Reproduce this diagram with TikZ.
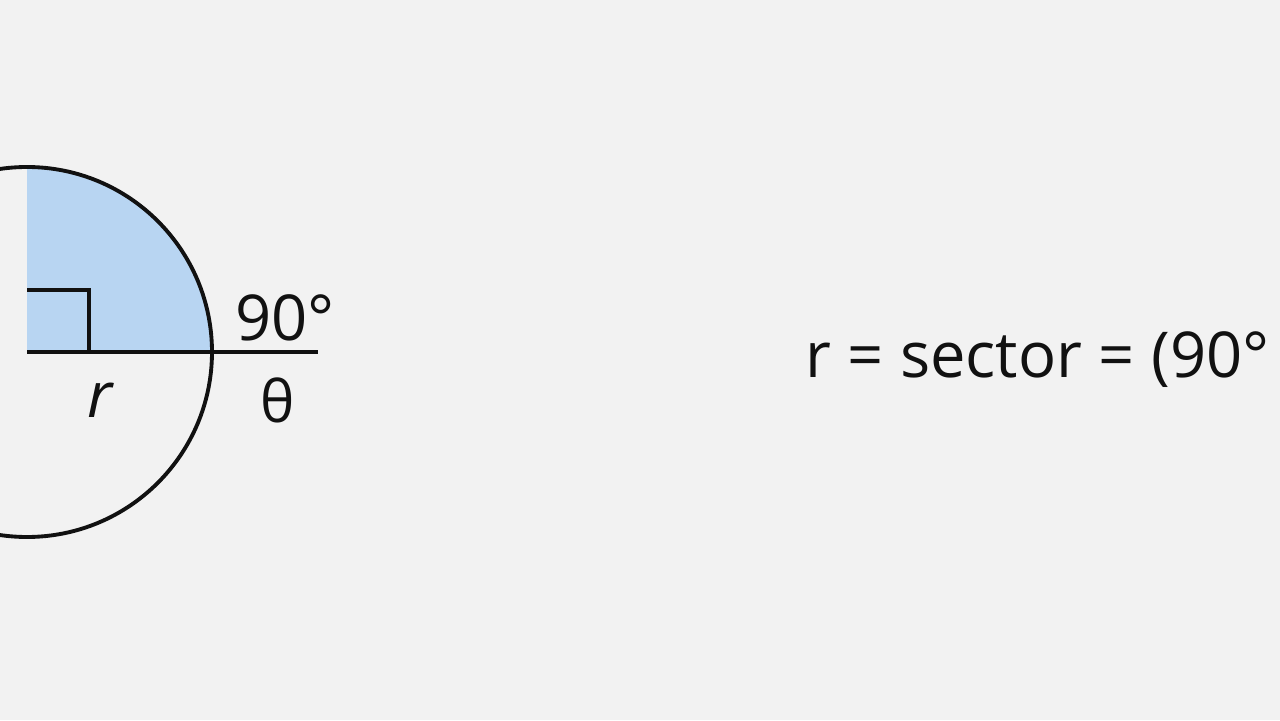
\documentclass[tikz,border=0pt]{standalone}
\usepackage{fontspec}
\setmainfont{Open Sans}
\usepackage{xcolor}
\usepackage{tikz}
\usetikzlibrary{positioning, calc}

\definecolor{bgpaper}{HTML}{F2F2F2}
\definecolor{sectorblue}{HTML}{B8D5F2}
\definecolor{inkline}{HTML}{111111}

\tikzset{
  geoline/.style={draw=inkline, line width=2.2pt},
  biglabel/.style={inner sep=0pt, text=inkline, font=\fontsize{36}{40}\selectfont}
}

\begin{document}
\begin{tikzpicture}[x=0.02cm, y=0.02cm]
	
	% ----- Canvas -----
	\fill[bgpaper] (0,0) rectangle (1280,720);
	\useasboundingbox (0,0) rectangle (1280,720);
	\clip (0,0) rectangle (1280,720);
	
	% ----- Parameters -----
	\def\rad{185} % circle radius
	\def\sq{62}   % right-angle mark size
	\coordinate (O) at (27,368);
	\coordinate (E) at (318,368);
	
	% ----- Quarter sector -----
	\fill[sectorblue] (O) -- ++(\rad,0) arc (0:90:\rad) -- cycle;
	
	% Right-angle mark
	\draw[geoline] ($(O)+(0,\sq)$) -- ++(\sq,0) -- ++(0,-\sq);
	
	% Circle and radius line
	\draw[geoline] (O) circle (\rad);
	\draw[geoline] (O) -- (E);
	
	% Labels
	\node[biglabel] (angle) at (285,402) {90°};
	\node[biglabel, font=\fontsize{33}{40}\selectfont] (theta) at (278,320) {θ};
	\node[biglabel, font=\fontsize{36}{40}\selectfont\itshape] (rlab) at (100,320) {r};
	
	% ----- Formula (runs off the right edge) -----
	\node[biglabel, anchor=base west] (formula) at (805,342) {r = sector = (90°};
	
\end{tikzpicture}
\end{document}
